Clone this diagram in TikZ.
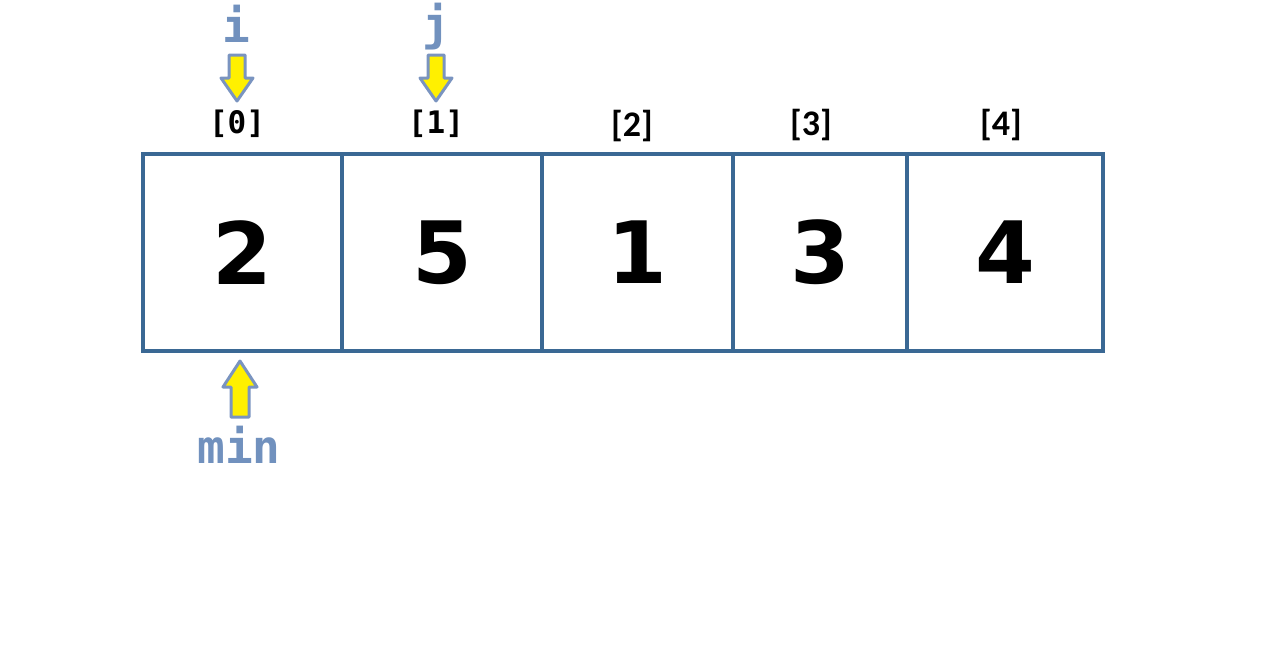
\documentclass[tikz,border=0pt]{standalone}
\usepackage{fontspec}
\newfontfamily\digitfont{DejaVu Sans}
\newfontfamily\monofont{DejaVu Sans Mono}
\newfontfamily\calfont{Carlito}
\definecolor{boxblue}{RGB}{58,104,148}
\definecolor{lblblue}{RGB}{113,145,190}
\definecolor{arrowedge}{RGB}{122,148,192}
\definecolor{arrowfill}{RGB}{255,240,0}
\tikzset{
  cell/.style={draw=boxblue, line width=4.5pt, inner sep=0pt, minimum height=197pt,
    font=\digitfont\bfseries\fontsize{86}{86}\selectfont},
  idxmono/.style={inner sep=0pt, font=\monofont\bfseries\fontsize{31}{31}\selectfont},
  idxcal/.style={inner sep=0pt, font=\calfont\bfseries\fontsize{36}{36}\selectfont},
  ptrlbl/.style={inner sep=0pt, text=lblblue, font=\monofont\bfseries\fontsize{46}{46}\selectfont},
  ptrarrow/.style={draw=arrowedge, fill=arrowfill, line width=3pt, line join=round}
}
\begin{document}
\begin{tikzpicture}[x=1pt,y=-1pt]
\useasboundingbox (0,0) rectangle (1274,648);
% cells
\node[cell, minimum width=199pt] (c0) at (242.5,252.5) {2};
\node[cell, minimum width=200pt] (c1) at (442,252.5) {5};
\node[cell, minimum width=191pt] (c2) at (637.5,252.5) {1};
\node[cell, minimum width=174pt] (c3) at (820,252.5) {3};
\node[cell, minimum width=196pt] (c4) at (1005,252.5) {4};
% indices
\node[idxmono] (k0) at (237,124) {[0]};
\node[idxmono] (k1) at (436,124) {[1]};
\node[idxcal] (k2) at (632,126) {[2]};
\node[idxcal] (k3) at (811,125) {[3]};
\node[idxcal] (k4) at (1001,125) {[4]};
% pointer labels
\node[ptrlbl] (li) at (236,24) {i};
\node[ptrlbl] (lj) at (436,27) {j};
\node[ptrlbl] (lmin) at (239,445) {min};
% down arrows
\foreach \x in {237,436}{
  \draw[ptrarrow] (\x-8,55) -- (\x+8,55) -- (\x+8,78) -- (\x+16,78) -- (\x,101)
    -- (\x-16,78) -- (\x-8,78) -- cycle;
}
% up arrow
\draw[ptrarrow] (231,417) -- (249,417) -- (249,387) -- (257,387) -- (240,361)
  -- (223,387) -- (231,387) -- cycle;
\end{tikzpicture}
\end{document}
